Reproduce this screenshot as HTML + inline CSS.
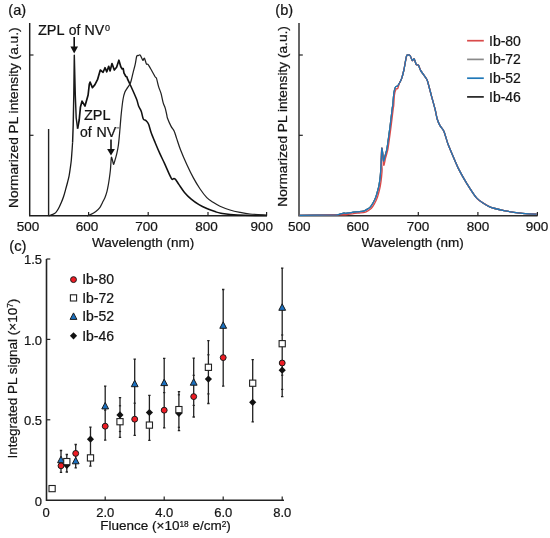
<!DOCTYPE html>
<html><head><meta charset="utf-8"><style>
html,body{margin:0;padding:0;background:#fff;}
body{width:550px;height:538px;overflow:hidden;}
svg{display:block;will-change:transform;font-family:"Liberation Sans",sans-serif;}
text{fill:#141414;stroke:#141414;stroke-width:0.22px;}
</style></head><body>
<svg width="550" height="538" viewBox="0 0 550 538">
<rect width="550" height="538" fill="#fff"/>
<path d="M29.7 23 V215.7 H267" fill="none" stroke="#1e1e1e" stroke-width="1.45"/>
<path d="M29.7 55.0 h3.8" stroke="#222" stroke-width="1.2"/>
<path d="M29.7 135.3 h3.8" stroke="#222" stroke-width="1.2"/>
<text x="28.0" y="230.9" text-anchor="middle" font-size="13.5" >500</text>
<path d="M88.6 215.7 v-3.8" stroke="#222" stroke-width="1.2"/>
<text x="87.1" y="230.9" text-anchor="middle" font-size="13.5" >600</text>
<path d="M148.2 215.7 v-3.8" stroke="#222" stroke-width="1.2"/>
<text x="146.5" y="230.9" text-anchor="middle" font-size="13.5" >700</text>
<path d="M208.0 215.7 v-3.8" stroke="#222" stroke-width="1.2"/>
<text x="206.5" y="230.9" text-anchor="middle" font-size="13.5" >800</text>
<path d="M266.6 215.7 v-3.8" stroke="#222" stroke-width="1.2"/>
<text x="261.8" y="230.9" text-anchor="middle" font-size="13.5" >900</text>
<text x="143.2" y="247.3" text-anchor="middle" font-size="13.5" >Wavelength (nm)</text>
<text transform="translate(17.8,117.7) rotate(-90)" text-anchor="middle" font-size="13.7">Normarized PL intensity (a.u.)</text>
<path d="M299.0 23 V215.7 H537.6" fill="none" stroke="#2c2c2c" stroke-width="1.45"/>
<path d="M299.0 55.0 h3.8" stroke="#222" stroke-width="1.2"/>
<path d="M299.0 135.3 h3.8" stroke="#222" stroke-width="1.2"/>
<text x="299.2" y="230.9" text-anchor="middle" font-size="13.5" >500</text>
<text x="357.7" y="230.9" text-anchor="middle" font-size="13.5" >600</text>
<path d="M418.3 215.7 v-3.8" stroke="#222" stroke-width="1.2"/>
<text x="418.1" y="230.9" text-anchor="middle" font-size="13.5" >700</text>
<path d="M477.9 215.7 v-3.8" stroke="#222" stroke-width="1.2"/>
<text x="478.0" y="230.9" text-anchor="middle" font-size="13.5" >800</text>
<path d="M537.4 215.7 v-3.8" stroke="#222" stroke-width="1.2"/>
<text x="537.0" y="230.9" text-anchor="middle" font-size="13.5" >900</text>
<text x="412.6" y="247.3" text-anchor="middle" font-size="13.5" >Wavelength (nm)</text>
<text transform="translate(286.7,116.4) rotate(-90)" text-anchor="middle" font-size="13.7">Normarized PL intensity (a.u.)</text>
<text x="8.3" y="15.0" text-anchor="start" font-size="14.6" >(a)</text>
<text x="275.3" y="15.0" text-anchor="start" font-size="14.6" >(b)</text>
<path d="M48.6 215.8 V129" stroke="#222" stroke-width="1.4"/>
<path d="M48.60 215.80 C49.17 215.60 50.82 215.13 52.00 214.60 C53.18 214.07 54.62 213.62 55.70 212.60 C56.78 211.58 57.57 210.18 58.50 208.50 C59.43 206.82 60.45 204.50 61.30 202.50 C62.15 200.50 62.87 198.72 63.60 196.50 C64.33 194.28 65.05 191.53 65.70 189.20 C66.35 186.87 66.93 184.73 67.50 182.50 C68.07 180.27 68.63 178.22 69.10 175.80 C69.57 173.38 69.93 170.60 70.30 168.00 C70.67 165.40 71.02 163.03 71.30 160.20 C71.58 157.37 71.78 153.98 72.00 151.00 C72.22 148.02 72.50 143.75 72.60 142.30" fill="none" stroke="#1a1a1a" stroke-width="1.3"/>
<polyline points="72.6,142.3 73.2,125.0 73.8,95.0 74.3,55.2 75.3,95.0 76.2,118.0 77.6,128.7" fill="none" stroke="#1a1a1a" stroke-width="1.45" stroke-linejoin="round"/>
<polyline points="77.6,128.7 79.2,120.0 80.4,107.3 82.0,101.1 85.0,106.0 88.1,95.0 89.3,84.4 90.1,82.1 92.4,87.6 94.8,84.9 97.5,79.7 100.3,70.0 103.1,72.3 105.0,67.7 106.8,71.8 108.7,66.3 110.1,70.9 112.0,63.5 114.3,70.0 116.6,67.2 118.9,60.2 120.8,66.7 122.2,69.0 123.2,68.6 124.0,73.2 125.9,76.5 126.8,76.8 127.8,79.7 130.1,84.4" fill="none" stroke="#111" stroke-width="1.7" stroke-linejoin="round"/>
<path d="M130.10 84.40 C130.52 85.33 131.50 87.47 132.60 90.00 C133.70 92.53 135.68 96.90 136.70 99.60 C137.72 102.30 137.93 104.23 138.70 106.20 C139.47 108.17 140.53 109.27 141.30 111.40 C142.07 113.53 142.53 117.47 143.30 119.00 C144.07 120.53 145.02 119.72 145.90 120.60 C146.78 121.48 147.73 122.32 148.60 124.30 C149.47 126.28 150.00 129.43 151.10 132.50 C152.20 135.57 153.72 139.13 155.20 142.70 C156.68 146.27 158.45 150.45 160.00 153.90 C161.55 157.35 163.02 160.15 164.50 163.40 C165.98 166.65 167.80 170.98 168.90 173.40 C170.00 175.82 170.53 176.88 171.10 177.90 C171.67 178.92 171.83 179.42 172.30 179.50 C172.77 179.58 173.35 178.40 173.90 178.40 C174.45 178.40 174.75 178.47 175.60 179.50 C176.45 180.53 177.52 182.45 179.00 184.60 C180.48 186.75 182.47 189.98 184.50 192.40 C186.53 194.82 188.78 197.07 191.20 199.10 C193.62 201.13 196.40 203.03 199.00 204.60 C201.60 206.17 204.13 207.33 206.80 208.50 C209.47 209.67 212.65 210.82 215.00 211.60 C217.35 212.38 217.18 212.62 220.90 213.20 C224.62 213.78 229.62 214.70 237.30 215.10 C244.98 215.50 262.05 215.52 267.00 215.60" fill="none" stroke="#111" stroke-width="1.55"/>
<path d="M87.00 215.80 C87.57 215.60 88.93 215.32 90.40 214.60 C91.87 213.88 94.20 212.72 95.80 211.50 C97.40 210.28 98.88 208.80 100.00 207.30 C101.12 205.80 101.67 204.13 102.50 202.50 C103.33 200.87 104.25 199.35 105.00 197.50 C105.75 195.65 106.45 193.48 107.00 191.40 C107.55 189.32 107.90 187.23 108.30 185.00 C108.70 182.77 109.05 180.50 109.40 178.00 C109.75 175.50 110.15 172.50 110.40 170.00 C110.65 167.50 110.73 165.12 110.90 163.00 C111.07 160.88 111.17 157.88 111.40 157.30 C111.63 156.72 111.95 158.35 112.30 159.50 C112.65 160.65 113.12 163.87 113.50 164.20 C113.88 164.53 114.03 163.33 114.60 161.50 C115.17 159.67 116.27 155.95 116.90 153.20 C117.53 150.45 117.93 148.53 118.40 145.00 C118.87 141.47 119.23 137.10 119.70 132.00 C120.17 126.90 120.65 119.82 121.20 114.40 C121.75 108.98 122.38 103.22 123.00 99.50 C123.62 95.78 124.12 94.12 124.90 92.10 C125.68 90.08 126.77 88.95 127.70 87.40 C128.63 85.85 129.60 85.27 130.50 82.80 C131.40 80.33 132.32 75.67 133.10 72.60 C133.88 69.53 134.60 67.13 135.20 64.40 C135.80 61.67 136.20 57.65 136.70 56.20 C137.20 54.75 137.60 55.87 138.20 55.70 C138.80 55.53 139.53 54.43 140.30 55.20 C141.07 55.97 142.12 59.78 142.80 60.30 C143.48 60.82 143.80 57.70 144.40 58.30 C145.00 58.90 145.80 62.88 146.40 63.90 C147.00 64.92 147.32 63.63 148.00 64.40 C148.68 65.17 149.32 66.45 150.50 68.50 C151.68 70.55 154.10 75.05 155.10 76.70 C156.10 78.35 155.92 76.75 156.50 78.40 C157.08 80.05 157.83 84.05 158.60 86.60 C159.37 89.15 160.33 90.98 161.10 93.70 C161.87 96.42 162.52 100.50 163.20 102.90 C163.88 105.30 164.60 106.08 165.20 108.10 C165.80 110.12 166.42 113.32 166.80 115.00 C167.18 116.68 166.78 116.30 167.50 118.20 C168.22 120.10 170.00 124.27 171.10 126.40 C172.20 128.53 173.17 128.97 174.10 131.00 C175.03 133.03 175.62 135.43 176.70 138.60 C177.78 141.77 178.92 145.68 180.60 150.00 C182.28 154.32 184.67 159.85 186.80 164.50 C188.93 169.15 191.18 173.82 193.40 177.90 C195.62 181.98 197.87 185.72 200.10 189.00 C202.33 192.28 204.57 195.33 206.80 197.60 C209.03 199.87 211.30 201.17 213.50 202.60 C215.70 204.03 217.25 204.97 220.00 206.20 C222.75 207.43 226.67 208.97 230.00 210.00 C233.33 211.03 236.67 211.73 240.00 212.40 C243.33 213.07 245.55 213.53 250.00 214.00 C254.45 214.47 263.92 215.00 266.70 215.20" fill="none" stroke="#222" stroke-width="1.25"/>
<text x="38.0" y="35.2" text-anchor="start" font-size="14.5" >ZPL</text>
<text x="68.8" y="35.2" text-anchor="start" font-size="14" >of</text>
<text x="84.6" y="35.2" text-anchor="start" font-size="14.2" >NV</text>
<text x="104.9" y="30.6" text-anchor="start" font-size="9" >0</text>
<path d="M74.2 37 V48" stroke="#111" stroke-width="1.6"/><path d="M70.4 46.4 L78.0 46.4 L74.2 53.6 Z" fill="#111"/>
<text x="84.0" y="119.7" text-anchor="start" font-size="14.5" >ZPL</text>
<text x="80.0" y="136.8" text-anchor="start" font-size="14" >of</text>
<text x="96.6" y="136.8" text-anchor="start" font-size="14.2" >NV</text>
<path d="M116.4 127.9 H119.4" stroke="#555" stroke-width="1"/>
<path d="M111.0 139.5 V150" stroke="#111" stroke-width="1.6"/><path d="M107.1 148.9 L114.9 148.9 L111.0 155.6 Z" fill="#111"/>
<path d="M299.40 215.40 C302.91 215.36 330.44 215.12 334.50 215.00 C338.56 214.88 339.10 214.38 340.00 214.20 C340.90 214.02 342.90 213.29 343.50 213.20 C344.10 213.11 345.12 213.38 346.00 213.30 C346.88 213.22 351.10 212.55 352.30 212.40 C353.50 212.25 356.88 211.92 358.00 211.80 C359.12 211.68 362.60 211.44 363.50 211.20 C364.40 210.96 366.33 209.81 367.00 209.40 C367.67 208.99 369.60 207.74 370.20 207.10 C370.80 206.46 372.44 204.00 373.00 203.00 C373.56 202.00 375.31 198.40 375.80 197.10 C376.29 195.80 377.57 191.23 377.90 190.00 C378.23 188.77 378.86 186.20 379.10 184.80 C379.34 183.40 380.12 177.68 380.30 176.00 C380.48 174.32 380.80 169.60 380.90 168.00 C381.00 166.40 381.21 161.97 381.30 160.00 C381.39 158.03 381.68 149.10 381.80 148.30 C381.92 147.50 382.33 150.73 382.50 152.00 C382.67 153.27 383.30 160.40 383.50 161.00 C383.70 161.60 384.16 159.19 384.50 158.00 C384.84 156.81 386.50 151.10 386.90 149.10 C387.30 147.10 388.16 140.45 388.50 138.00 C388.84 135.55 389.92 127.60 390.30 124.60 C390.68 121.60 392.05 109.96 392.30 108.00 C392.55 106.04 392.64 106.51 392.80 105.00 C392.96 103.49 393.62 94.72 393.90 92.90 C394.18 91.08 395.26 87.47 395.60 86.80 C395.94 86.13 396.91 86.58 397.30 86.20 C397.69 85.82 399.06 83.78 399.50 83.00 C399.94 82.22 401.25 79.75 401.70 78.40 C402.15 77.05 403.50 71.78 404.00 69.50 C404.50 67.22 406.09 56.99 406.70 55.60 C407.31 54.21 409.54 55.10 410.10 55.60 C410.66 56.10 411.89 60.27 412.30 60.60 C412.71 60.93 413.81 58.51 414.20 58.90 C414.59 59.29 415.78 63.88 416.20 64.50 C416.62 65.12 417.95 64.49 418.40 65.10 C418.85 65.71 420.03 69.43 420.70 70.60 C421.37 71.77 424.43 75.79 425.10 76.80 C425.77 77.81 426.74 78.70 427.40 80.70 C428.06 82.70 430.94 93.98 431.70 96.80 C432.46 99.62 434.45 106.68 435.00 108.90 C435.55 111.12 436.70 117.33 437.20 119.00 C437.70 120.67 439.33 124.38 440.00 125.60 C440.67 126.82 443.12 129.41 443.90 131.20 C444.68 132.99 446.94 141.12 447.80 143.50 C448.66 145.88 451.46 152.54 452.50 155.00 C453.54 157.46 456.81 165.32 458.20 168.10 C459.59 170.88 464.52 179.77 466.40 182.80 C468.28 185.83 474.71 196.02 477.00 198.40 C479.29 200.78 486.60 205.38 489.30 206.60 C492.00 207.82 500.89 209.95 504.00 210.60 C507.11 211.25 517.13 212.74 520.40 213.10 C523.67 213.46 535.07 214.09 536.70 214.20" fill="none" stroke="#222" stroke-width="1.25" stroke-linejoin="round"/>
<path d="M299.40 215.40 C302.91 215.36 330.44 215.12 334.50 215.00 C338.56 214.88 339.10 214.38 340.00 214.20 C340.90 214.02 342.90 213.29 343.50 213.20 C344.10 213.11 345.12 213.38 346.00 213.30 C346.88 213.22 351.10 212.55 352.30 212.40 C353.50 212.25 356.88 211.92 358.00 211.80 C359.12 211.68 362.60 211.44 363.50 211.20 C364.40 210.96 366.33 209.81 367.00 209.40 C367.67 208.99 369.60 207.74 370.20 207.10 C370.80 206.46 372.44 204.00 373.00 203.00 C373.56 202.00 375.31 198.40 375.80 197.10 C376.29 195.80 377.57 191.23 377.90 190.00 C378.23 188.77 378.86 186.20 379.10 184.80 C379.34 183.40 380.12 177.68 380.30 176.00 C380.48 174.32 380.80 169.60 380.90 168.00 C381.00 166.40 381.21 161.97 381.30 160.00 C381.39 158.03 381.68 149.10 381.80 148.30 C381.92 147.50 382.33 150.73 382.50 152.00 C382.67 153.27 383.30 160.40 383.50 161.00 C383.70 161.60 384.16 159.19 384.50 158.00 C384.84 156.81 386.50 151.10 386.90 149.10 C387.30 147.10 388.16 140.45 388.50 138.00 C388.84 135.55 389.92 127.60 390.30 124.60 C390.68 121.60 392.05 109.96 392.30 108.00 C392.55 106.04 392.64 106.51 392.80 105.00 C392.96 103.49 393.62 94.72 393.90 92.90 C394.18 91.08 395.26 87.47 395.60 86.80 C395.94 86.13 396.91 86.58 397.30 86.20 C397.69 85.82 399.06 83.78 399.50 83.00 C399.94 82.22 401.25 79.75 401.70 78.40 C402.15 77.05 403.50 71.78 404.00 69.50 C404.50 67.22 406.09 56.99 406.70 55.60 C407.31 54.21 409.54 55.10 410.10 55.60 C410.66 56.10 411.89 60.27 412.30 60.60 C412.71 60.93 413.81 58.51 414.20 58.90 C414.59 59.29 415.78 63.88 416.20 64.50 C416.62 65.12 417.95 64.49 418.40 65.10 C418.85 65.71 420.03 69.43 420.70 70.60 C421.37 71.77 424.43 75.79 425.10 76.80 C425.77 77.81 426.74 78.70 427.40 80.70 C428.06 82.70 430.94 93.98 431.70 96.80 C432.46 99.62 434.45 106.68 435.00 108.90 C435.55 111.12 436.70 117.33 437.20 119.00 C437.70 120.67 439.33 124.38 440.00 125.60 C440.67 126.82 443.12 129.41 443.90 131.20 C444.68 132.99 446.94 141.12 447.80 143.50 C448.66 145.88 451.46 152.54 452.50 155.00 C453.54 157.46 456.81 165.32 458.20 168.10 C459.59 170.88 464.52 179.77 466.40 182.80 C468.28 185.83 474.71 196.02 477.00 198.40 C479.29 200.78 486.60 205.38 489.30 206.60 C492.00 207.82 500.89 209.95 504.00 210.60 C507.11 211.25 517.13 212.74 520.40 213.10 C523.67 213.46 535.07 214.09 536.70 214.20" fill="none" stroke="#8a8a8a" stroke-width="1.25" stroke-linejoin="round"/>
<path d="M299.40 215.40 C302.91 215.34 330.44 214.86 334.50 214.80 C338.56 214.74 339.10 214.80 340.00 214.80 C340.90 214.80 342.78 214.83 343.50 214.80 C344.22 214.77 346.20 214.62 347.20 214.50 C348.20 214.38 352.30 213.75 353.50 213.60 C354.70 213.45 358.08 213.12 359.20 213.00 C360.32 212.88 363.80 212.64 364.70 212.40 C365.60 212.16 367.53 211.01 368.20 210.60 C368.87 210.19 370.80 208.94 371.40 208.30 C372.00 207.66 373.64 205.20 374.20 204.20 C374.76 203.20 376.51 199.60 377.00 198.30 C377.49 197.00 378.77 192.43 379.10 191.20 C379.43 189.97 380.06 187.40 380.30 186.00 C380.54 184.60 381.32 178.88 381.50 177.20 C381.68 175.52 382.12 170.92 382.10 169.20 C382.08 167.48 381.33 162.09 381.30 160.00 C381.27 157.91 381.68 149.10 381.80 148.30 C381.92 147.50 382.30 150.31 382.50 152.00 C382.70 153.69 383.51 164.54 383.80 165.20 C384.09 165.86 385.00 160.15 385.40 158.60 C385.80 157.05 387.40 151.70 387.80 149.70 C388.20 147.70 389.06 141.05 389.40 138.60 C389.74 136.15 390.82 128.20 391.20 125.20 C391.58 122.20 392.95 110.56 393.20 108.60 C393.45 106.64 393.58 106.95 393.70 105.60 C393.82 104.25 394.16 96.76 394.40 95.10 C394.64 93.44 395.76 89.67 396.10 89.00 C396.44 88.33 397.46 89.00 397.80 88.40 C398.14 87.80 399.11 84.00 399.50 83.00 C399.89 82.00 401.25 79.75 401.70 78.40 C402.15 77.05 403.50 71.78 404.00 69.50 C404.50 67.22 406.09 56.99 406.70 55.60 C407.31 54.21 409.54 55.10 410.10 55.60 C410.66 56.10 411.89 60.27 412.30 60.60 C412.71 60.93 413.81 58.51 414.20 58.90 C414.59 59.29 415.78 63.88 416.20 64.50 C416.62 65.12 417.95 64.49 418.40 65.10 C418.85 65.71 420.03 69.43 420.70 70.60 C421.37 71.77 424.43 75.79 425.10 76.80 C425.77 77.81 426.74 78.70 427.40 80.70 C428.06 82.70 430.94 93.98 431.70 96.80 C432.46 99.62 434.45 106.68 435.00 108.90 C435.55 111.12 436.70 117.33 437.20 119.00 C437.70 120.67 439.33 124.38 440.00 125.60 C440.67 126.82 443.12 129.41 443.90 131.20 C444.68 132.99 446.94 141.12 447.80 143.50 C448.66 145.88 451.46 152.54 452.50 155.00 C453.54 157.46 456.81 165.32 458.20 168.10 C459.59 170.88 464.52 179.77 466.40 182.80 C468.28 185.83 474.71 196.02 477.00 198.40 C479.29 200.78 486.60 205.38 489.30 206.60 C492.00 207.82 500.89 209.95 504.00 210.60 C507.11 211.25 517.13 212.74 520.40 213.10 C523.67 213.46 535.07 214.09 536.70 214.20" fill="none" stroke="#d94a4a" stroke-width="1.4" stroke-linejoin="round"/>
<path d="M299.40 215.40 C302.91 215.36 330.44 215.12 334.50 215.00 C338.56 214.88 339.10 214.38 340.00 214.20 C340.90 214.02 342.90 213.29 343.50 213.20 C344.10 213.11 345.12 213.38 346.00 213.30 C346.88 213.22 351.10 212.55 352.30 212.40 C353.50 212.25 356.88 211.92 358.00 211.80 C359.12 211.68 362.60 211.44 363.50 211.20 C364.40 210.96 366.33 209.81 367.00 209.40 C367.67 208.99 369.60 207.74 370.20 207.10 C370.80 206.46 372.44 204.00 373.00 203.00 C373.56 202.00 375.31 198.40 375.80 197.10 C376.29 195.80 377.57 191.23 377.90 190.00 C378.23 188.77 378.86 186.20 379.10 184.80 C379.34 183.40 380.12 177.68 380.30 176.00 C380.48 174.32 380.80 169.60 380.90 168.00 C381.00 166.40 381.21 161.97 381.30 160.00 C381.39 158.03 381.68 149.10 381.80 148.30 C381.92 147.50 382.33 150.73 382.50 152.00 C382.67 153.27 383.30 160.40 383.50 161.00 C383.70 161.60 384.16 159.19 384.50 158.00 C384.84 156.81 386.50 151.10 386.90 149.10 C387.30 147.10 388.16 140.45 388.50 138.00 C388.84 135.55 389.92 127.60 390.30 124.60 C390.68 121.60 392.05 109.96 392.30 108.00 C392.55 106.04 392.64 106.51 392.80 105.00 C392.96 103.49 393.62 94.72 393.90 92.90 C394.18 91.08 395.26 87.47 395.60 86.80 C395.94 86.13 396.91 86.58 397.30 86.20 C397.69 85.82 399.06 83.78 399.50 83.00 C399.94 82.22 401.25 79.75 401.70 78.40 C402.15 77.05 403.50 71.78 404.00 69.50 C404.50 67.22 406.09 56.99 406.70 55.60 C407.31 54.21 409.54 55.10 410.10 55.60 C410.66 56.10 411.89 60.27 412.30 60.60 C412.71 60.93 413.81 58.51 414.20 58.90 C414.59 59.29 415.78 63.88 416.20 64.50 C416.62 65.12 417.95 64.49 418.40 65.10 C418.85 65.71 420.03 69.43 420.70 70.60 C421.37 71.77 424.43 75.79 425.10 76.80 C425.77 77.81 426.74 78.70 427.40 80.70 C428.06 82.70 430.94 93.98 431.70 96.80 C432.46 99.62 434.45 106.68 435.00 108.90 C435.55 111.12 436.70 117.33 437.20 119.00 C437.70 120.67 439.33 124.38 440.00 125.60 C440.67 126.82 443.12 129.41 443.90 131.20 C444.68 132.99 446.94 141.12 447.80 143.50 C448.66 145.88 451.46 152.54 452.50 155.00 C453.54 157.46 456.81 165.32 458.20 168.10 C459.59 170.88 464.52 179.77 466.40 182.80 C468.28 185.83 474.71 196.02 477.00 198.40 C479.29 200.78 486.60 205.38 489.30 206.60 C492.00 207.82 500.89 209.95 504.00 210.60 C507.11 211.25 517.13 212.74 520.40 213.10 C523.67 213.46 535.07 214.09 536.70 214.20" fill="none" stroke="#1f78b8" stroke-width="1.25" stroke-linejoin="round"/>
<path d="M467.1 40.7 H483.8" stroke="#d94a4a" stroke-width="1.7"/>
<text x="489" y="45.7" text-anchor="start" font-size="14" >Ib-80</text>
<path d="M467.1 59.4 H483.8" stroke="#8a8a8a" stroke-width="1.7"/>
<text x="489" y="64.4" text-anchor="start" font-size="14" >Ib-72</text>
<path d="M467.1 78.2 H483.8" stroke="#1f78b8" stroke-width="1.7"/>
<text x="489" y="83.2" text-anchor="start" font-size="14" >Ib-52</text>
<path d="M467.1 96.9 H483.8" stroke="#222" stroke-width="1.7"/>
<text x="489" y="101.9" text-anchor="start" font-size="14" >Ib-46</text>
<text x="9.3" y="250.5" text-anchor="start" font-size="14.8" >(c)</text>
<path d="M46.5 259 V500.2 H284" fill="none" stroke="#222" stroke-width="1.6"/>
<text x="42" y="505.5" text-anchor="end" font-size="13" >0</text>
<path d="M46.5 419.8 h3.8" stroke="#222" stroke-width="1.2"/>
<text x="42" y="425.1" text-anchor="end" font-size="13" >0.5</text>
<path d="M46.5 339.4 h3.8" stroke="#222" stroke-width="1.2"/>
<text x="42" y="344.7" text-anchor="end" font-size="13" >1.0</text>
<path d="M46.5 259.0 h3.8" stroke="#222" stroke-width="1.2"/>
<text x="42" y="264.3" text-anchor="end" font-size="13" >1.5</text>
<text x="46.2" y="517" text-anchor="middle" font-size="13" >0</text>
<path d="M105.2 500.2 v-3.6" stroke="#222" stroke-width="1.2"/>
<text x="105.2" y="517" text-anchor="middle" font-size="13" >2.0</text>
<path d="M164.2 500.2 v-3.6" stroke="#222" stroke-width="1.2"/>
<text x="164.2" y="517" text-anchor="middle" font-size="13" >4.0</text>
<path d="M223.2 500.2 v-3.6" stroke="#222" stroke-width="1.2"/>
<text x="223.2" y="517" text-anchor="middle" font-size="13" >6.0</text>
<path d="M282.2 500.2 v-3.6" stroke="#222" stroke-width="1.2"/>
<text x="282.2" y="517" text-anchor="middle" font-size="13" >8.0</text>
<text x="100.3" y="530.2" text-anchor="start" font-size="13.5" >Fluence (&#215;10<tspan font-size="8.3" dy="-3.6">18</tspan><tspan dy="3.6"> e/cm</tspan><tspan font-size="8.3" dy="-3.6">2</tspan><tspan dy="3.6">)</tspan></text>
<text transform="translate(17.3,378.6) rotate(-90)" text-anchor="middle" font-size="13.5">Integrated PL signal (&#215;10<tspan font-size="8.3" dy="-4.6">7</tspan><tspan dy="4.6">)</tspan></text>
<path d="M61.0 450.5 V472.3 M59.8 450.5 h2.4 M59.8 472.3 h2.4" stroke="#222" stroke-width="1.3"/>
<path d="M66.8 454.5 V472 M65.6 454.5 h2.4 M65.6 472 h2.4" stroke="#222" stroke-width="1.3"/>
<path d="M75.7 444.5 V467.8 M74.5 444.5 h2.4 M74.5 467.8 h2.4" stroke="#222" stroke-width="1.3"/>
<path d="M90.5 427.1 V466.1 M89.2 427.1 h2.4 M89.2 466.1 h2.4" stroke="#222" stroke-width="1.3"/>
<path d="M105.2 386.1 V440.2 M104.0 386.1 h2.4 M104.0 440.2 h2.4" stroke="#222" stroke-width="1.3"/>
<path d="M120.0 397.6 V437.3 M118.8 397.6 h2.4 M118.8 437.3 h2.4" stroke="#222" stroke-width="1.3"/>
<path d="M134.7 359.1 V435.3 M133.5 359.1 h2.4 M133.5 435.3 h2.4" stroke="#222" stroke-width="1.3"/>
<path d="M149.4 395.3 V440.4 M148.2 395.3 h2.4 M148.2 440.4 h2.4" stroke="#222" stroke-width="1.3"/>
<path d="M164.2 358.4 V427.9 M163.0 358.4 h2.4 M163.0 427.9 h2.4" stroke="#222" stroke-width="1.3"/>
<path d="M178.9 391.6 V430.6 M177.8 391.6 h2.4 M177.8 430.6 h2.4" stroke="#222" stroke-width="1.3"/>
<path d="M193.7 358.2 V417 M192.5 358.2 h2.4 M192.5 417 h2.4" stroke="#222" stroke-width="1.3"/>
<path d="M208.4 340.6 V403.5 M207.2 340.6 h2.4 M207.2 403.5 h2.4" stroke="#222" stroke-width="1.3"/>
<path d="M223.2 289.5 V386.2 M222.0 289.5 h2.4 M222.0 386.2 h2.4" stroke="#222" stroke-width="1.3"/>
<path d="M252.7 359.6 V421.8 M251.5 359.6 h2.4 M251.5 421.8 h2.4" stroke="#222" stroke-width="1.3"/>
<path d="M282.2 268.2 V396.6 M281.0 268.2 h2.4 M281.0 396.6 h2.4" stroke="#222" stroke-width="1.3"/>
<path d="M104.1 410.2 h2.2" stroke="#222" stroke-width="1.2"/>
<path d="M118.9 405.8 h2.2" stroke="#222" stroke-width="1.2"/>
<path d="M118.9 431.5 h2.2" stroke="#222" stroke-width="1.2"/>
<path d="M133.6 403.2 h2.2" stroke="#222" stroke-width="1.2"/>
<path d="M163.1 392.6 h2.2" stroke="#222" stroke-width="1.2"/>
<path d="M177.8 394.8 h2.2" stroke="#222" stroke-width="1.2"/>
<path d="M177.8 427.3 h2.2" stroke="#222" stroke-width="1.2"/>
<path d="M192.6 375.3 h2.2" stroke="#222" stroke-width="1.2"/>
<path d="M192.6 405.4 h2.2" stroke="#222" stroke-width="1.2"/>
<path d="M207.3 354.8 h2.2" stroke="#222" stroke-width="1.2"/>
<path d="M207.3 393.9 h2.2" stroke="#222" stroke-width="1.2"/>
<path d="M281.1 335 h2.2" stroke="#222" stroke-width="1.2"/>
<path d="M281.1 375.2 h2.2" stroke="#222" stroke-width="1.2"/>
<path d="M281.1 389.4 h2.2" stroke="#222" stroke-width="1.2"/>
<path d="M66.8 461.7 L70.4 465.3 L66.8 468.9 L63.2 465.3 Z" fill="#111"/>
<path d="M90.5 435.6 L94.0 439.2 L90.5 442.8 L86.9 439.2 Z" fill="#111"/>
<path d="M120.0 411.3 L123.5 414.9 L120.0 418.5 L116.4 414.9 Z" fill="#111"/>
<path d="M149.4 408.9 L153.0 412.5 L149.4 416.1 L145.8 412.5 Z" fill="#111"/>
<path d="M178.9 409.7 L182.5 413.3 L178.9 416.9 L175.3 413.3 Z" fill="#111"/>
<path d="M208.4 375.5 L212.0 379.1 L208.4 382.7 L204.8 379.1 Z" fill="#111"/>
<path d="M252.7 398.7 L256.3 402.3 L252.7 405.9 L249.1 402.3 Z" fill="#111"/>
<path d="M282.2 366.6 L285.8 370.2 L282.2 373.8 L278.6 370.2 Z" fill="#111"/>
<path d="M61.0 456.2 L64.4 462.7 L57.6 462.7 Z" fill="#1a70c0" stroke="#1a1a1a" stroke-width="1" stroke-linejoin="miter"/>
<path d="M75.7 457.3 L79.1 463.8 L72.3 463.8 Z" fill="#1a70c0" stroke="#1a1a1a" stroke-width="1" stroke-linejoin="miter"/>
<path d="M105.2 402.4 L108.6 408.9 L101.8 408.9 Z" fill="#1a70c0" stroke="#1a1a1a" stroke-width="1" stroke-linejoin="miter"/>
<path d="M134.7 380.2 L138.1 386.7 L131.3 386.7 Z" fill="#1a70c0" stroke="#1a1a1a" stroke-width="1" stroke-linejoin="miter"/>
<path d="M164.2 379.1 L167.6 385.6 L160.8 385.6 Z" fill="#1a70c0" stroke="#1a1a1a" stroke-width="1" stroke-linejoin="miter"/>
<path d="M193.7 378.7 L197.1 385.2 L190.3 385.2 Z" fill="#1a70c0" stroke="#1a1a1a" stroke-width="1" stroke-linejoin="miter"/>
<path d="M223.2 321.8 L226.6 328.3 L219.8 328.3 Z" fill="#1a70c0" stroke="#1a1a1a" stroke-width="1" stroke-linejoin="miter"/>
<path d="M282.2 303.8 L285.6 310.3 L278.8 310.3 Z" fill="#1a70c0" stroke="#1a1a1a" stroke-width="1" stroke-linejoin="miter"/>
<rect x="49.0" y="485.5" width="6.2" height="6.2" fill="#fff" stroke="#222" stroke-width="1.1"/>
<rect x="63.7" y="458.5" width="6.2" height="6.2" fill="#fff" stroke="#222" stroke-width="1.1"/>
<rect x="87.4" y="454.8" width="6.2" height="6.2" fill="#fff" stroke="#222" stroke-width="1.1"/>
<rect x="116.9" y="418.6" width="6.2" height="6.2" fill="#fff" stroke="#222" stroke-width="1.1"/>
<rect x="146.3" y="422.0" width="6.2" height="6.2" fill="#fff" stroke="#222" stroke-width="1.1"/>
<rect x="175.8" y="406.5" width="6.2" height="6.2" fill="#fff" stroke="#222" stroke-width="1.1"/>
<rect x="205.3" y="364.2" width="6.2" height="6.2" fill="#fff" stroke="#222" stroke-width="1.1"/>
<rect x="249.6" y="380.1" width="6.2" height="6.2" fill="#fff" stroke="#222" stroke-width="1.1"/>
<rect x="279.1" y="340.6" width="6.2" height="6.2" fill="#fff" stroke="#222" stroke-width="1.1"/>
<circle cx="61.0" cy="465.8" r="2.95" fill="#ee1c24" stroke="#1a1a1a" stroke-width="1"/>
<circle cx="75.7" cy="453.4" r="2.95" fill="#ee1c24" stroke="#1a1a1a" stroke-width="1"/>
<circle cx="105.2" cy="426.2" r="2.95" fill="#ee1c24" stroke="#1a1a1a" stroke-width="1"/>
<circle cx="134.7" cy="419.2" r="2.95" fill="#ee1c24" stroke="#1a1a1a" stroke-width="1"/>
<circle cx="164.2" cy="410.2" r="2.95" fill="#ee1c24" stroke="#1a1a1a" stroke-width="1"/>
<circle cx="193.7" cy="396.6" r="2.95" fill="#ee1c24" stroke="#1a1a1a" stroke-width="1"/>
<circle cx="223.2" cy="357.6" r="2.95" fill="#ee1c24" stroke="#1a1a1a" stroke-width="1"/>
<circle cx="282.2" cy="363.0" r="2.95" fill="#ee1c24" stroke="#1a1a1a" stroke-width="1"/>
<circle cx="73.5" cy="279.6" r="2.95" fill="#ee1c24" stroke="#1a1a1a" stroke-width="1"/>
<rect x="70.4" y="294.8" width="6.2" height="6.2" fill="#fff" stroke="#222" stroke-width="1.1"/>
<path d="M73.5 312.9 L76.9 319.4 L70.1 319.4 Z" fill="#1a70c0" stroke="#1a1a1a" stroke-width="1" stroke-linejoin="miter"/>
<path d="M73.5 332.2 L77.1 335.8 L73.5 339.4 L69.9 335.8 Z" fill="#111"/>
<text x="82.2" y="283.8" text-anchor="start" font-size="14" >Ib-80</text>
<text x="82.2" y="302.7" text-anchor="start" font-size="14" >Ib-72</text>
<text x="82.2" y="321.3" text-anchor="start" font-size="14" >Ib-52</text>
<text x="82.2" y="341.0" text-anchor="start" font-size="14" >Ib-46</text>
</svg></body></html>
